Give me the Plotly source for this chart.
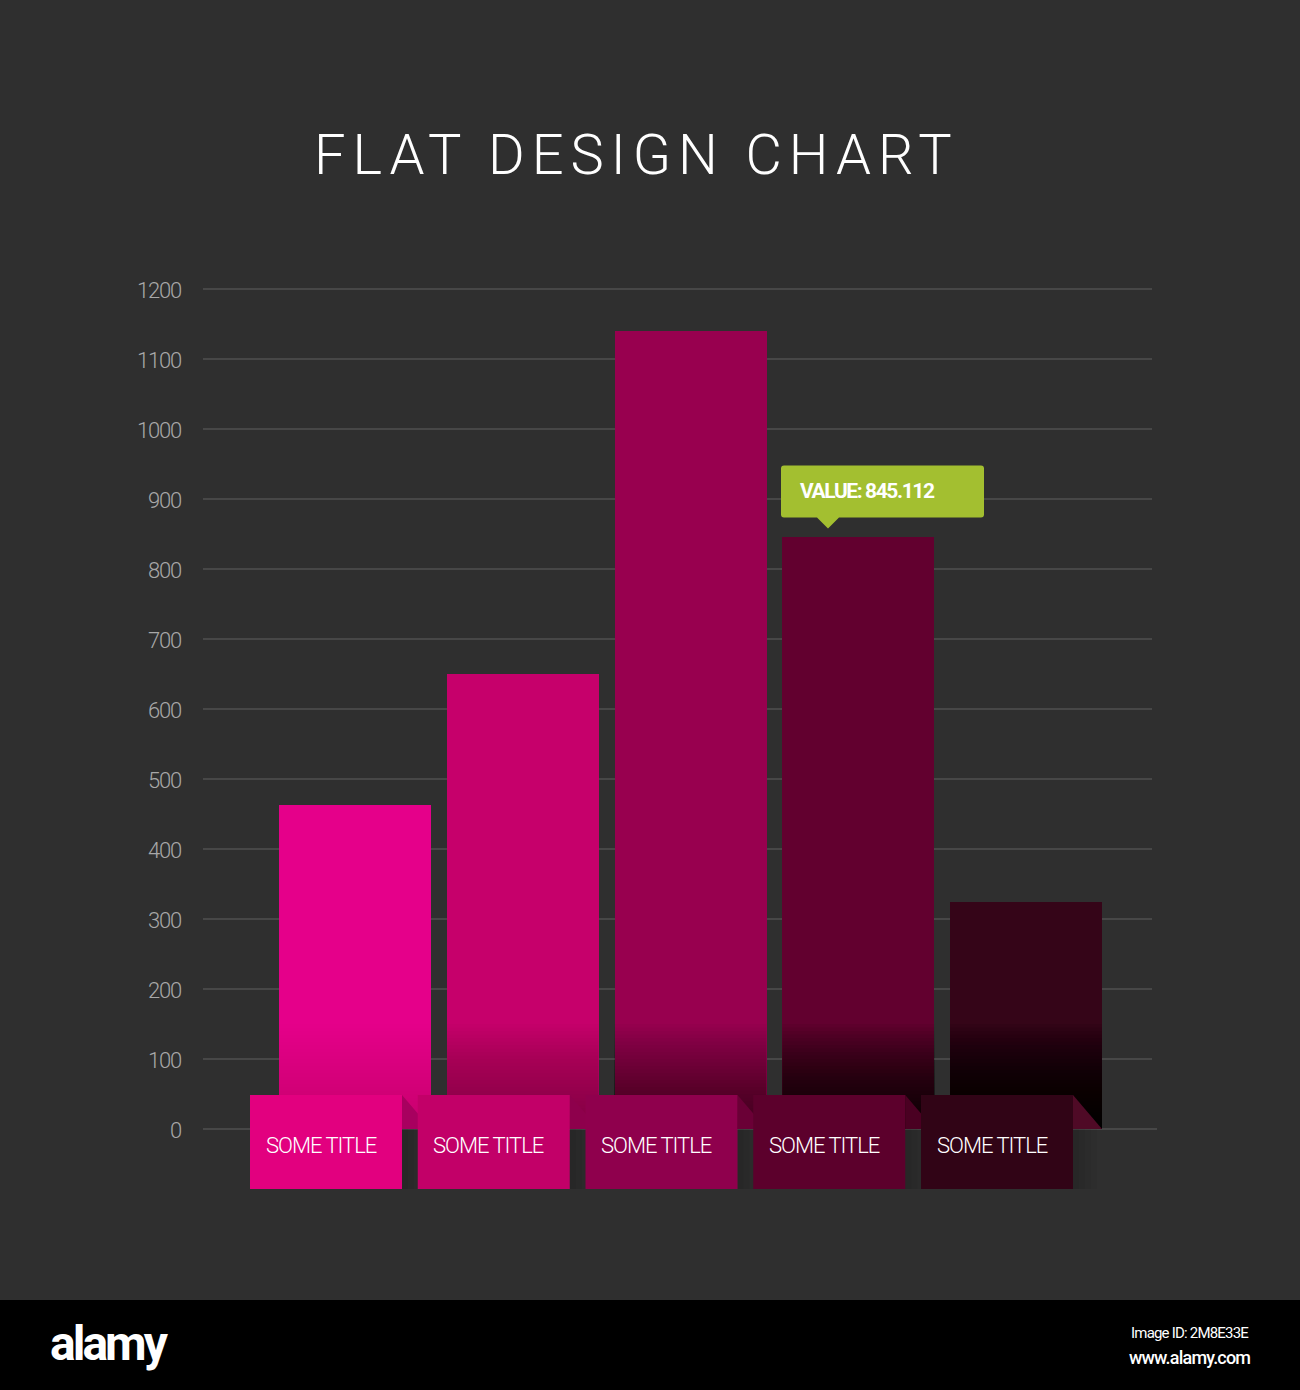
import plotly.graph_objects as go

# ---------------- data ----------------
categories = ["SOME TITLE", "SOME TITLE", "SOME TITLE", "SOME TITLE", "SOME TITLE"]
values = [463, 650, 1140, 845.112, 324]
highlight_index = 3
highlight_text = "VALUE: 845.112"
y_ticks = [0, 100, 200, 300, 400, 500, 600, 700, 800, 900, 1000, 1100, 1200]
title_text = "FLAT DESIGN CHART"

# ---------------- style ----------------
bar_colors = ["#e5008a", "#c6006b", "#98004f", "#62002f", "#350518"]
box_colors = ["#e2007f", "#c20068", "#8f004d", "#5c002c", "#310416"]
fold_colors = ["#a8005f", "#8e004c", "#6a0036", "#4a0022", "#4f0a26"]
shade_strength = [0.14, 0.3, 0.5, 0.8, 0.85]
BG = "#2f2f2f"
GRID = "#474747"
FONT = "Roboto, Open Sans, sans-serif"

W, H = 1300, 1390
PX_PER_UNIT = 0.7
Y0_PX = 1129
y_top = Y0_PX / PX_PER_UNIT
y_bot = -(H - Y0_PX) / PX_PER_UNIT
X0_PX, DX_PX = 355.0, 167.75
x_left = -X0_PX / DX_PX
x_right = (W - X0_PX) / DX_PX


def px(d):
    return d / DX_PX


def py(d):
    return d / PX_PER_UNIT


def ls(text, spacing):
    return f"<span style='letter-spacing:{spacing}px'>{text}</span>"


bar_w = px(152)
xs = list(range(len(values)))

fig = go.Figure()
fig.add_trace(go.Bar(
    x=xs, y=values, width=bar_w,
    marker=dict(color=bar_colors, line=dict(width=0)),
    hoverinfo="skip", showlegend=False,
))

shapes = []
annotations = []

for t in y_ticks:
    shapes.append(dict(type="line", xref="x", yref="y",
                       x0=px(203 - X0_PX), x1=px((1157 if t == 0 else 1152) - X0_PX), y0=t, y1=t,
                       line=dict(color=GRID, width=2), layer="below"))
    annotations.append(dict(x=px(183 - X0_PX), y=t - py(1), xref="x", yref="y",
                            text=ls(str(t), -1.2), showarrow=False, xanchor="right", yanchor="middle",
                            font=dict(family=FONT, size=22, color="#a8a8a8", weight=300)))

# bottom shading gradient on bars
N = 30
G = 150
for i, v in enumerate(values):
    xl, xr = i - bar_w / 2, i + bar_w / 2
    a = 1 - (1 - shade_strength[i]) ** (1 / N)
    for k in range(N):
        h = G * (k + 1) / N
        shapes.append(dict(type="rect", xref="x", yref="y", x0=xl, x1=xr, y0=0, y1=min(h, v),
                           fillcolor="black", opacity=a, line=dict(width=0), layer="above"))

box_off = px(-29)
box_top = py(Y0_PX - 1095)
box_bot = -py(1189 - Y0_PX)
for i, v in enumerate(values):
    xr = i + bar_w / 2
    bl = i - bar_w / 2 + box_off
    br = i + bar_w / 2 + box_off
    shapes.append(dict(type="path", xref="x", yref="y",
                       path=f"M {br},{box_top} L {xr},0 L {br},0 Z",
                       fillcolor=fold_colors[i], line=dict(width=0), layer="above"))
    for s in range(4):
        shapes.append(dict(type="rect", xref="x", yref="y", x0=br, x1=br + px(6 * (s + 1)),
                           y0=box_bot, y1=0,
                           fillcolor="black", opacity=0.04, line=dict(width=0), layer="above"))
    shapes.append(dict(type="rect", xref="x", yref="y", x0=bl, x1=br, y0=box_bot, y1=box_top,
                       fillcolor=box_colors[i], line=dict(width=0), layer="above"))
    annotations.append(dict(x=(bl + br) / 2 - px(5), y=(box_top + box_bot) / 2 - py(3),
                            xref="x", yref="y", text=ls(categories[i], -1.0), showarrow=False,
                            xanchor="center", yanchor="middle",
                            font=dict(family=FONT, size=22, color="white", weight=300)))

# tooltip for highlighted bar
hi = highlight_index
hv = values[hi]
tip_y = hv + py(9)
tb_bot = tip_y + py(11)
tb_top = tb_bot + py(52)
cpx = X0_PX + hi * DX_PX
tl = hi + px(781 - cpx)
tr = hi + px(984 - cpx)
tip_x = hi + px(828 - cpx)
green = "#a3bf30"
r = 3
path = (f"M {tl + px(r)},{tb_top} L {tr - px(r)},{tb_top} Q {tr},{tb_top} {tr},{tb_top - py(r)} "
        f"L {tr},{tb_bot + py(r)} Q {tr},{tb_bot} {tr - px(r)},{tb_bot} "
        f"L {tip_x + px(11)},{tb_bot} L {tip_x},{tip_y} L {tip_x - px(11)},{tb_bot} "
        f"L {tl + px(r)},{tb_bot} Q {tl},{tb_bot} {tl},{tb_bot + py(r)} "
        f"L {tl},{tb_top - py(r)} Q {tl},{tb_top} {tl + px(r)},{tb_top} Z")
shapes.append(dict(type="path", xref="x", yref="y", path=path, fillcolor=green,
                   line=dict(width=0), layer="above"))
annotations.append(dict(x=tl + px(17), y=(tb_top + tb_bot) / 2, xref="x", yref="y",
                        text=ls(highlight_text, -1.4), showarrow=False,
                        xanchor="left", yanchor="middle",
                        font=dict(family=FONT, size=21, color="white", weight=700)))

# title
annotations.append(dict(x=636 / W, y=1 - 155 / H, xref="paper", yref="paper",
                        text=ls(title_text, 7), showarrow=False, xanchor="center", yanchor="middle",
                        font=dict(family=FONT, size=56, color="white", weight=300)))

# bottom banner
shapes.append(dict(type="rect", xref="paper", yref="paper", x0=0, x1=1, y0=0, y1=1 - 1300 / H,
                   fillcolor="black", line=dict(width=0), layer="above"))
annotations.append(dict(x=48 / W, y=1 - 1343 / H, xref="paper", yref="paper", text=ls("alamy", -3),
                        showarrow=False, xanchor="left", yanchor="middle",
                        font=dict(family=FONT, size=48, color="white", weight=700)))
annotations.append(dict(x=1251 / W, y=1 - 1333 / H, xref="paper", yref="paper",
                        text=ls("Image ID: 2M8E33E", -0.8),
                        showarrow=False, xanchor="right", yanchor="middle",
                        font=dict(family=FONT, size=15, color="white")))
annotations.append(dict(x=1252 / W, y=1 - 1357 / H, xref="paper", yref="paper",
                        text=ls("www.alamy.com", -0.8),
                        showarrow=False, xanchor="right", yanchor="middle",
                        font=dict(family=FONT, size=18, color="white", weight=500)))

fig.update_layout(
    width=W, height=H,
    margin=dict(l=0, r=0, t=0, b=0),
    paper_bgcolor=BG, plot_bgcolor=BG,
    xaxis=dict(range=[x_left, x_right], visible=False, fixedrange=True),
    yaxis=dict(range=[y_bot, y_top], visible=False, fixedrange=True),
    shapes=shapes, annotations=annotations,
    bargap=0, showlegend=False,
)

fig.write_html("out.html", config={"displayModeBar": False},
               post_script="document.body.style.margin='0';document.body.style.background='#2f2f2f';")
